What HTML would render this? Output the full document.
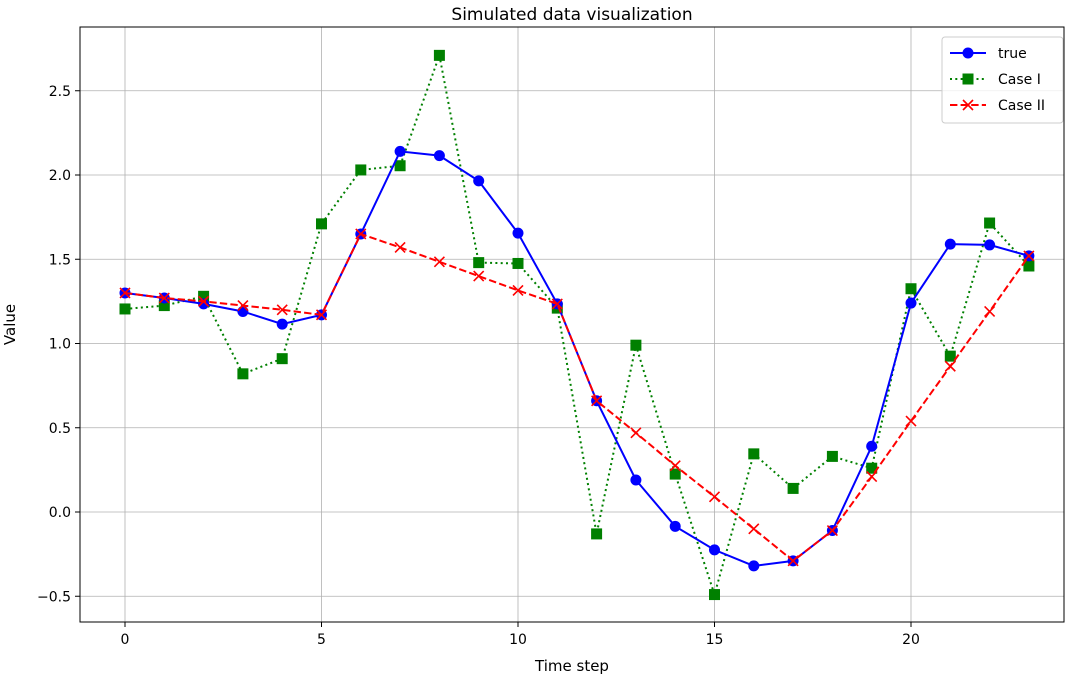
<!DOCTYPE html>
<html><head><meta charset="utf-8"><style>
body{margin:0;background:#fff;font-family:"Liberation Sans","DejaVu Sans",sans-serif;}
svg text{font-family:"DejaVu Sans","Liberation Sans",sans-serif;}
</style></head><body>
<svg id="chart" width="1077" height="677" xmlns="http://www.w3.org/2000/svg">
</svg>
<script>
const steps=[0,1,2,3,4,5,6,7,8,9,10,11,12,13,14,15,16,17,18,19,20,21,22,23];
const trueVals=[1.30,1.27,1.235,1.19,1.115,1.17,1.65,2.14,2.115,1.965,1.655,1.235,0.66,0.19,-0.085,-0.225,-0.32,-0.29,-0.11,0.39,1.24,1.59,1.585,1.52];
const case1Vals=[1.205,1.225,1.28,0.82,0.91,1.71,2.03,2.055,2.71,1.48,1.475,1.21,-0.13,0.99,0.225,-0.49,0.345,0.14,0.33,0.26,1.325,0.925,1.715,1.46];
const case2Vals=[1.30,1.27,1.25,1.225,1.20,1.17,1.65,1.57,1.485,1.40,1.315,1.235,0.66,0.47,0.275,0.09,-0.10,-0.29,-0.11,0.21,0.54,0.865,1.19,1.52];
const xTicks=[0,5,10,15,20];
const yTicks=[-0.5,0.0,0.5,1.0,1.5,2.0,2.5];
const yTickLabels=["\u22120.5","0.0","0.5","1.0","1.5","2.0","2.5"];

const L=80,R=1064,T=27,B=622;
const X=v=>125+v*39.3;
const Y=v=>512-v*168.5;
const svg=document.getElementById('chart');
const NS='http://www.w3.org/2000/svg';
function mk(tag,attrs,parent){const e=document.createElementNS(NS,tag);for(const k in attrs)e.setAttribute(k,attrs[k]);(parent||svg).appendChild(e);return e;}

const grid=mk('g',{});


xTicks.forEach(t=>{
  const l=mk('line',{x1:X(t),x2:X(t),y1:T,y2:B,stroke:'#b0b0b0','stroke-width':0.8},grid);
  
  
  const tk=mk('line',{x1:X(t),x2:X(t),y1:B,y2:B+5,stroke:'#000'});
  
  
  const tx=mk('text',{x:X(t),y:B+22,'text-anchor':'middle','font-size':14});
  tx.textContent=t;
  
  
});
yTicks.forEach((t,i)=>{
  const l=mk('line',{x1:L,x2:R,y1:Y(t),y2:Y(t),stroke:'#b0b0b0','stroke-width':0.8},grid);
  
  
  const tk=mk('line',{x1:L-5,x2:L,y1:Y(t),y2:Y(t),stroke:'#000'});
  
  
  const tx=mk('text',{x:L-9,y:Y(t)+5,'text-anchor':'end','font-size':14});
  tx.textContent=yTickLabels[i];
  
  
});

function series(vals,color,dash,marker,name){
  const g=mk('g',{});
  
  
  const pts=vals.map((v,i)=>X(steps[i])+','+Y(v)).join(' ');
  const pl=mk('polyline',{points:pts,fill:'none',stroke:color,'stroke-width':2,'stroke-dasharray':dash},g);
  
  
  vals.forEach((v,i)=>{
    const m=drawMarker(marker,X(steps[i]),Y(v),color,g);
    
    
  });
}
function drawMarker(type,x,y,color,g){
  if(type==='o')return mk('circle',{cx:x,cy:y,r:5.5,fill:color},g);
  if(type==='s')return mk('rect',{x:x-5.5,y:y-5.5,width:11,height:11,fill:color},g);
  return mk('path',{d:`M${x-5} ${y-5}L${x+5} ${y+5}M${x-5} ${y+5}L${x+5} ${y-5}`,stroke:color,'stroke-width':1.6},g);
}
series(case1Vals,'#008000','2 3.3','s','case1-series');
series(trueVals,'#0000ff','','o','true-series');
series(case2Vals,'#ff0000','7.4 3.2','x','case2-series');

const frame=mk('rect',{x:L,y:T,width:R-L,height:B-T,fill:'none',stroke:'#000','stroke-width':1});



const title=mk('text',{x:(L+R)/2,y:20,'text-anchor':'middle','font-size':17});
title.textContent='Simulated data visualization';


const xl=mk('text',{x:(L+R)/2,y:671,'text-anchor':'middle','font-size':15});
xl.textContent='Time step';


const yl=mk('text',{x:15,y:(T+B)/2,'text-anchor':'middle','font-size':15,transform:`rotate(-90 15 ${(T+B)/2})`});
yl.textContent='Value';



const lg=mk('g',{});


mk('rect',{x:942,y:37,width:121,height:86,rx:3,fill:'#fff','fill-opacity':0.8,stroke:'#ccc'},lg);
const entries=[['true','#0000ff','','o'],['Case I','#008000','2 3.3','s'],['Case II','#ff0000','7.4 3.2','x']];
entries.forEach((e,i)=>{
  const y=53+i*26;
  const eg=mk('g',{},lg);
  
  
  mk('line',{x1:950,x2:986,y1:y,y2:y,stroke:e[1],'stroke-width':2,'stroke-dasharray':e[2]},eg);
  drawMarker(e[3],968,y,e[1],eg);
  const t=mk('text',{x:998,y:y+5,'font-size':14},eg);
  t.textContent=e[0];
});
</script>
</body></html>
